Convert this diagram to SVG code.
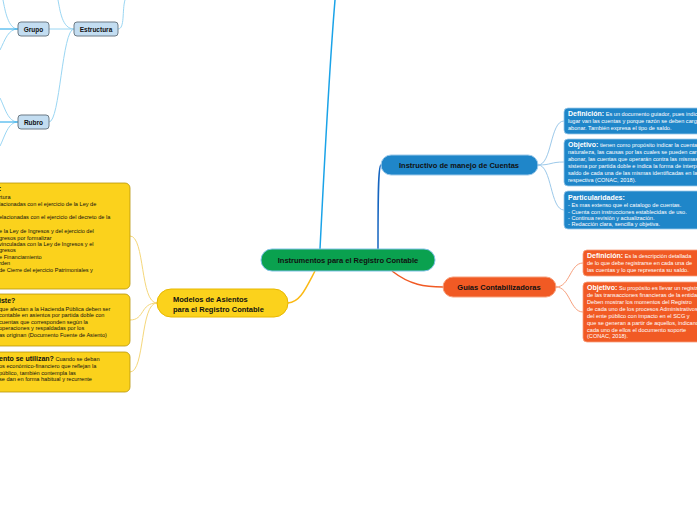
<svg xmlns="http://www.w3.org/2000/svg" width="697" height="520" viewBox="0 0 697 520">
<style>
text{font-family:"Liberation Sans",Arial,sans-serif;fill:#111}
.b{font-weight:bold}
.m{font-size:7.5px;font-weight:bold}
.s{font-size:5.6px}
.sw{font-size:5.6px;fill:#fff}
.h{font-size:7px;font-weight:bold;fill:#fff}
.hy{font-size:7px;font-weight:bold}
.sub{fill:#c3ddf1;stroke:#6d7b86;stroke-width:1}
.yb{fill:#fbd21c;stroke:#b8960a;stroke-width:0.8}
.bb{fill:#1f86c9;stroke:#9cc9ea;stroke-width:0.8}
.ob{fill:#f15a24;stroke:#f7a07d;stroke-width:0.8}
.lb{fill:none;stroke:#9ad6f3;stroke-width:1}
</style>
<g id="connectors" fill="none">
<path d="M320 249 C325 150 330 60 335 0" stroke="#1aa3e8" stroke-width="1.5"/>
<path d="M378 249 C378 200 378 166 381 165" stroke="#1565c0" stroke-width="1.5"/>
<path d="M392 271 C410 285 425 287 443 287" stroke="#f15a24" stroke-width="1.5"/>
<path d="M315 271 C305 290 300 302 288 303" stroke="#fbb914" stroke-width="1.5"/>
<path d="M538 165 C552 165 550 121 564 121" stroke="#9cc9ea"/>
<path d="M538 165 C552 165 550 162 564 162" stroke="#9cc9ea"/>
<path d="M538 165 C552 165 550 210 564 210" stroke="#9cc9ea"/>
<path d="M556 287 C570 287 570 263 583 263" stroke="#f7a07d"/>
<path d="M556 287 C570 287 570 312 583 312" stroke="#f7a07d"/>
<path d="M157 303 C140 303 145 236 130 236" stroke="#f5d77a"/>
<path d="M157 303 C140 303 145 320 130 320" stroke="#f5d77a"/>
<path d="M157 303 C140 303 145 372 130 372" stroke="#f5d77a"/>
<path d="M118 29 C125 29 122 10 125 0" class="lb"/>
<path d="M74 29 C62 29 60 10 58 0" class="lb"/>
<path d="M74 29 C62 29 60 122 49 122" class="lb"/>
<path d="M74 29 L49 29" class="lb"/>
<path d="M18 29 C8 29 5 10 3 0" class="lb"/>
<path d="M18 29 C8 29 5 40 0 50" class="lb"/>
<path d="M18 29 L0 29" stroke="#1aa3e8"/>
<path d="M18 122 C8 122 5 108 0 98" class="lb"/>
<path d="M18 122 C8 122 5 136 0 146" class="lb"/>
<path d="M18 122 L0 122" stroke="#1aa3e8"/>
</g>
<g id="center"><rect x="261" y="249" width="174" height="22" rx="11" fill="#0aa14f" stroke="#7fc2e8"/><text x="348" y="263" text-anchor="middle" class="m">Instrumentos para el Registro Contable</text></g>
<g id="instructivo"><rect x="381" y="155" width="157" height="20" rx="10" fill="#1f86c9" stroke="#9cc9ea"/><text x="459" y="168" text-anchor="middle" class="m">Instructivo de manejo de Cuentas</text></g>
<g id="guias"><rect x="443" y="277" width="113" height="20" rx="10" fill="#f15a24" stroke="#f7a07d"/><text x="499" y="290" text-anchor="middle" class="m">Guías Contabilizadoras</text></g>
<g id="modelos"><rect x="157" y="289" width="131" height="28" rx="14" fill="#fbd21c" stroke="#e8b800"/><text x="173" y="301.5" class="m">Modelos de Asientos</text><text x="173" y="311.5" class="m">para el Registro Contable</text></g>
<g id="estructura"><rect x="74" y="22" width="44" height="14" rx="3" class="sub"/><text x="96" y="32" text-anchor="middle" class="b" font-size="6.5">Estructura</text></g>
<g id="grupo"><rect x="18" y="22" width="31" height="14" rx="3" class="sub"/><text x="33.5" y="32" text-anchor="middle" class="b" font-size="6.5">Grupo</text></g>
<g id="rubro"><rect x="18" y="115" width="31" height="14" rx="3" class="sub"/><text x="33.5" y="125" text-anchor="middle" class="b" font-size="6.5">Rubro</text></g>
<g id="def1"><rect x="564" y="108" width="145" height="26" rx="4" class="bb"/><text x="568" y="116" class="sw"><tspan class="h">Definición:</tspan> Es un documento guiador, pues indica en qué</text><text x="568" y="123" class="sw">lugar van las cuentas y porque razón se deben cargar o</text><text x="568" y="130" class="sw">abonar. También expresa el tipo de saldo.</text></g>
<g id="obj1"><rect x="564" y="139" width="145" height="47" rx="4" class="bb"/><text x="568" y="147" class="sw"><tspan class="h">Objetivo:</tspan> tienen como propósito indicar la cuenta, su</text><text x="568" y="154" class="sw">naturaleza, las causas por las cuales se pueden cargar y</text><text x="568" y="161" class="sw">abonar, las cuentas que operarán contra las mismas en el</text><text x="568" y="168" class="sw">sistema por partida doble e indica la forma de interpretar el</text><text x="568" y="175" class="sw">saldo de cada una de las mismas identificadas en la guía</text><text x="568" y="182" class="sw">respectiva (CONAC, 2018).</text></g>
<g id="part1"><rect x="564" y="191" width="145" height="38" rx="4" class="bb"/><text x="568" y="200" class="h">Particularidades:</text><text x="568" y="207" class="sw">- Es mas extenso que el catalogo de cuentas.</text><text x="568" y="214" class="sw">- Cuenta con instrucciones establecidas de uso.</text><text x="568" y="220" class="sw">- Continua revisión y actualización.</text><text x="568" y="226" class="sw">- Redacción clara, sencilla y objetiva.</text></g>
<g id="def2"><rect x="583" y="250" width="125" height="26" rx="4" class="ob"/><text x="587" y="258" class="sw"><tspan class="h">Definición:</tspan> Es la descripción detallada</text><text x="587" y="265" class="sw">de lo que debe registrarse en cada una de</text><text x="587" y="272" class="sw">las cuentas y lo que representa su saldo.</text></g>
<g id="obj2"><rect x="583" y="282" width="125" height="60" rx="4" class="ob"/><text x="587" y="290" class="sw"><tspan class="h">Objetivo:</tspan> Su propósito es llevar un registro</text><text x="587" y="297" class="sw">de las transacciones financieras de la entidad.</text><text x="587" y="304" class="sw">Deben mostrar los momentos del Registro</text><text x="587" y="311" class="sw">de cada uno de los procesos Administrativos</text><text x="587" y="318" class="sw">del ente público con impacto en el SCG y</text><text x="587" y="325" class="sw">que se generan a partir de aquellos, indicando</text><text x="587" y="332" class="sw">cada uno de ellos el documento soporte</text><text x="587" y="338" class="sw">(CONAC, 2018).</text></g>
<g id="y1"><rect x="-10" y="183" width="140" height="106" rx="5" class="yb"/><text x="-1" y="191" class="hy">:</text><text x="-1" y="199" class="s">rtura</text><text x="-1" y="206" class="s">lacionadas con el ejercicio de la Ley de</text><text x="-1" y="219" class="s">elacionadas con el ejercicio del decreto de la</text><text x="-1" y="233" class="s">e la Ley de Ingresos y del ejercicio del</text><text x="-1" y="240" class="s">gresos por formalizar</text><text x="-1" y="246" class="s">vinculadas con la Ley de Ingresos y el</text><text x="-1" y="252" class="s">gresos</text><text x="-1" y="259" class="s">e Financiamiento</text><text x="-1" y="265" class="s">rden</text><text x="-1" y="272" class="s">de Cierre del ejercicio Patrimoniales y</text></g>
<g id="y2"><rect x="-10" y="294" width="140" height="52" rx="5" class="yb"/><text x="-1" y="303" class="hy">iste?</text><text x="-1" y="311" class="s">que afectan a la Hacienda Pública deben ser</text><text x="-1" y="317" class="s">contable en asientos por partida doble con</text><text x="-1" y="324" class="s">cuentas que corresponden según la</text><text x="-1" y="330" class="s">operaciones y respaldadas por los</text><text x="-1" y="337" class="s">as originan (Documento Fuente de Asiento)</text></g>
<g id="y3"><rect x="-10" y="352" width="140" height="40" rx="5" class="yb"/><text x="-1" y="361" class="s"><tspan class="hy">ento se utilizan?</tspan> Cuando se deban</text><text x="-1" y="368" class="s">os económico-financiero que reflejan la</text><text x="-1" y="375" class="s">público, también contempla las</text><text x="-1" y="381" class="s">se dan en forma habitual y recurrente</text></g>
</svg>
